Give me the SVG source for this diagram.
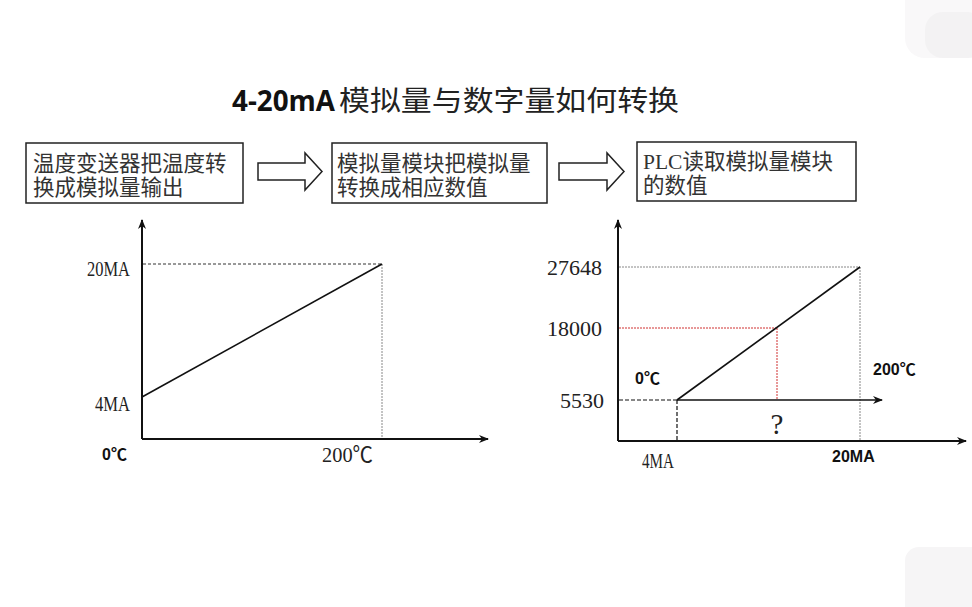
<svg xmlns="http://www.w3.org/2000/svg" width="972" height="607" viewBox="0 0 972 607">
<defs>
<marker id="ah" markerWidth="10" markerHeight="8" refX="9" refY="4" orient="auto" markerUnits="userSpaceOnUse">
<path d="M0,0 L10,4 L0,8 L3,4 Z" fill="#111"/>
</marker>
</defs>
<style>
.box{fill:#fff;stroke:#222;stroke-width:1.5}
.bt{font-family:"Liberation Serif","Noto Sans CJK SC",serif;font-size:21.5px;fill:#333}
.lbl{font-family:"Liberation Serif","Noto Sans CJK SC",serif;font-size:22px;fill:#222}
.q{font-family:"Liberation Serif",serif;font-size:29px;fill:#222}
.bl{font-family:"Liberation Sans","Noto Sans CJK SC",sans-serif;font-size:16px;font-weight:bold;fill:#111}
.ax{stroke:#111;stroke-width:2;fill:none}
.ln{stroke:#111;stroke-width:1.6;fill:none}
.dash{stroke:#333;stroke-width:1;stroke-dasharray:3,2;fill:none}
.dot{stroke:#888;stroke-width:1;stroke-dasharray:2,1;fill:none}
.red{stroke:#d03030;stroke-width:1;stroke-dasharray:2,1;fill:none}
.blk{stroke:#111;stroke-width:1.2;stroke-dasharray:4,2;fill:none}
.arr{fill:#fff;stroke:#222;stroke-width:1.5}
</style>
<rect width="972" height="607" fill="#fff"/>
<g id="decor">
<rect x="905" y="-20" width="90" height="78" rx="20" fill="#f9f8f9"/>
<rect x="925" y="12" width="60" height="46" rx="18" fill="#f3f2f3"/>
<rect x="905" y="547" width="90" height="80" rx="14" fill="#f6f5f6"/>
</g>
<g id="title">
<text x="232" y="111" font-family="'Open Sans','Liberation Sans',sans-serif" font-weight="bold" font-size="28" fill="#111" textLength="103" lengthAdjust="spacingAndGlyphs">4-20mA</text>
<text x="339" y="111" font-family="'Noto Sans CJK SC',sans-serif" font-size="28" fill="#222" textLength="340" lengthAdjust="spacingAndGlyphs">模拟量与数字量如何转换</text>
</g>
<g id="box1">
<rect class="box" x="26" y="143" width="217" height="60"/>
<text class="bt" x="33" y="171">温度变送器把温度转</text>
<text class="bt" x="33" y="195">换成模拟量输出</text>
</g>
<g id="box2">
<rect class="box" x="332" y="143" width="215" height="60"/>
<text class="bt" x="337" y="171">模拟量模块把模拟量</text>
<text class="bt" x="337" y="195">转换成相应数值</text>
</g>
<g id="box3">
<rect class="box" x="637" y="142" width="219" height="59"/>
<text class="bt" x="643" y="169">PLC读取模拟量模块</text>
<text class="bt" x="643" y="193">的数值</text>
</g>
<g id="connectors">
<path class="arr" d="M258,163 L305,163 L305,153 L322,171.5 L305,190 L305,180 L258,180 Z"/>
<path class="arr" d="M559,163 L607,163 L607,153 L624,171.5 L607,190 L607,180 L559,180 Z"/>
</g>
<g id="chart1">
<line class="ax" x1="142" y1="439" x2="142" y2="220" marker-end="url(#ah)"/>
<line class="ax" x1="142" y1="439" x2="488" y2="439" marker-end="url(#ah)"/>
<line class="dash" x1="143" y1="264" x2="382" y2="264"/>
<line class="dot" x1="382" y1="264" x2="382" y2="438"/>
<line class="ln" x1="142" y1="397" x2="382" y2="264"/>
<text class="lbl" x="87" y="276" textLength="43" lengthAdjust="spacingAndGlyphs">20MA</text>
<text class="lbl" x="95" y="411" textLength="35" lengthAdjust="spacingAndGlyphs">4MA</text>
<text class="bl" x="102" y="460">0℃</text>
<text class="lbl" x="322" y="462" textLength="51" lengthAdjust="spacingAndGlyphs">200℃</text>
</g>
<g id="chart2">
<line class="ax" x1="618" y1="441" x2="618" y2="220" marker-end="url(#ah)"/>
<line class="ax" x1="618" y1="441" x2="966" y2="441" marker-end="url(#ah)"/>
<line class="dot" x1="619" y1="267" x2="860" y2="267"/>
<line class="dot" x1="860" y1="267" x2="860" y2="440"/>
<line class="red" x1="619" y1="328" x2="777" y2="328"/>
<line class="red" x1="777" y1="328" x2="777" y2="399"/>
<line class="blk" x1="619" y1="400" x2="677" y2="400"/>
<line class="blk" x1="677" y1="400" x2="677" y2="440"/>
<line class="ln" x1="677" y1="400" x2="882" y2="400" marker-end="url(#ah)"/>
<line class="ln" x1="677" y1="400" x2="860" y2="267"/>
<text class="lbl" x="547" y="275">27648</text>
<text class="lbl" x="547" y="336">18000</text>
<text class="lbl" x="560" y="408">5530</text>
<text class="bl" x="635" y="384">0℃</text>
<text class="bl" x="873" y="375">200℃</text>
<text class="q" x="777" y="434" text-anchor="middle">?</text>
<text class="lbl" x="642" y="468" textLength="32" lengthAdjust="spacingAndGlyphs">4MA</text>
<text class="bl" x="832" y="462">20MA</text>
</g>
</svg>
